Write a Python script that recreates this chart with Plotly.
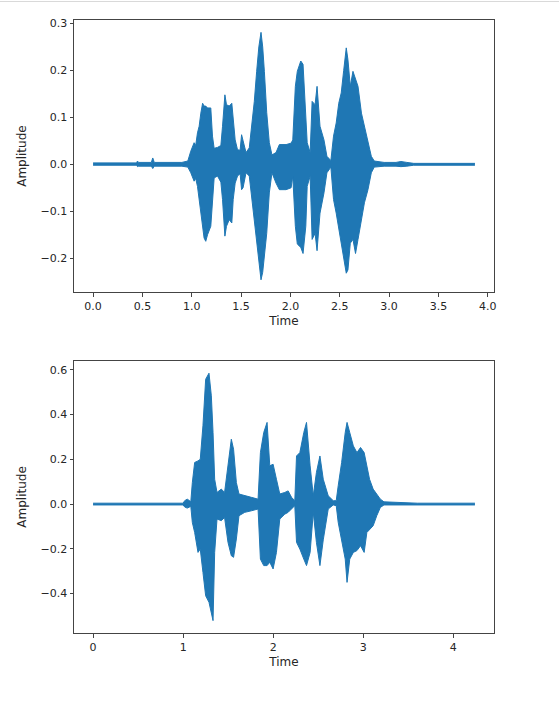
import plotly.graph_objects as go

# --- first clip: upper / lower envelope ---
time_a = [0.0, 0.44, 0.45, 0.46, 0.59, 0.605, 0.62, 0.90, 0.96, 0.99, 1.024, 1.04, 1.058,
          1.075, 1.092, 1.11, 1.125, 1.142, 1.16, 1.193, 1.21, 1.227, 1.261, 1.295, 1.312,
          1.336, 1.352, 1.38, 1.406, 1.42, 1.44, 1.464, 1.49, 1.505, 1.52, 1.55, 1.583,
          1.61, 1.634, 1.658, 1.68, 1.702, 1.719, 1.736, 1.76, 1.786, 1.813, 1.854, 1.888,
          1.956, 2.007, 2.024, 2.05, 2.07, 2.105, 2.128, 2.156, 2.17, 2.20, 2.22, 2.25,
          2.27, 2.30, 2.34, 2.37, 2.41, 2.437, 2.464, 2.49, 2.515, 2.54, 2.566, 2.583,
          2.607, 2.634, 2.66, 2.685, 2.72, 2.75, 2.786, 2.82, 2.85, 2.95, 3.07, 3.12,
          3.18, 3.25, 3.87]
upper_a = [0.003, 0.003, 0.007, 0.004, 0.004, 0.0135, 0.004, 0.004, 0.007, 0.028, 0.046,
           0.040, 0.067, 0.081, 0.109, 0.13, 0.124, 0.124, 0.12, 0.12, 0.06, 0.034, 0.036,
           0.04, 0.081, 0.148, 0.127, 0.124, 0.13, 0.102, 0.052, 0.031, 0.03, 0.063, 0.05,
           0.025, 0.035, 0.081, 0.134, 0.198, 0.25, 0.281, 0.25, 0.198, 0.11, 0.046, 0.02,
           0.025, 0.042, 0.042, 0.045, 0.052, 0.166, 0.198, 0.22, 0.213, 0.116, 0.046,
           0.025, 0.134, 0.127, 0.166, 0.081, 0.052, 0.017, 0.008, 0.06, 0.088, 0.13,
           0.152, 0.2, 0.248, 0.223, 0.166, 0.198, 0.18, 0.166, 0.109, 0.081, 0.046,
           0.017, 0.007, 0.004, 0.004, 0.006, 0.004, 0.002, 0.002]
lower_a = [-0.002, -0.002, -0.005, -0.004, -0.004, -0.009, -0.004, -0.004, -0.006, -0.018,
           -0.036, -0.03, -0.047, -0.075, -0.10, -0.132, -0.157, -0.164, -0.15, -0.132,
           -0.075, -0.029, -0.025, -0.038, -0.075, -0.153, -0.132, -0.118, -0.125, -0.075,
           -0.04, -0.025, -0.02, -0.054, -0.05, -0.018, -0.025, -0.075, -0.118, -0.163,
           -0.2, -0.246, -0.23, -0.2, -0.147, -0.061, -0.018, -0.04, -0.054, -0.054, -0.05,
           -0.025, -0.132, -0.17, -0.177, -0.19, -0.132, -0.047, -0.025, -0.16, -0.147,
           -0.184, -0.104, -0.061, -0.018, -0.006, -0.075, -0.104, -0.139, -0.168, -0.196,
           -0.232, -0.225, -0.168, -0.16, -0.19, -0.16, -0.118, -0.082, -0.054, -0.018,
           -0.006, -0.004, -0.004, -0.005, -0.004, -0.002, -0.002]

# --- second clip ---
time_b = [0.0, 1.0, 1.017, 1.045, 1.072, 1.085, 1.102, 1.128, 1.165, 1.19, 1.22, 1.25,
          1.287, 1.313, 1.332, 1.35, 1.376, 1.424, 1.46, 1.498, 1.535, 1.56, 1.591, 1.62,
          1.684, 1.758, 1.832, 1.858, 1.895, 1.932, 1.962, 1.999, 2.036, 2.073, 2.129,
          2.166, 2.204, 2.24, 2.259, 2.296, 2.34, 2.37, 2.41, 2.445, 2.48, 2.519, 2.556,
          2.611, 2.667, 2.70, 2.722, 2.76, 2.80, 2.82, 2.85, 2.89, 2.93, 2.97, 3.01, 3.04,
          3.07, 3.11, 3.15, 3.19, 3.23, 3.6, 4.24]
upper_b = [0.004, 0.004, 0.015, 0.022, 0.015, 0.01, 0.096, 0.186, 0.193, 0.2, 0.35, 0.558,
           0.585, 0.484, 0.32, 0.111, 0.052, 0.067, 0.052, 0.186, 0.29, 0.245, 0.096, 0.045,
           0.037, 0.03, 0.022, 0.23, 0.32, 0.365, 0.171, 0.178, 0.111, 0.045, 0.052, 0.059,
           0.03, 0.015, 0.215, 0.23, 0.32, 0.365, 0.171, 0.037, 0.141, 0.215, 0.111, 0.037,
           0.015, 0.015, 0.082, 0.186, 0.32, 0.365, 0.32, 0.26, 0.23, 0.253, 0.23, 0.171,
           0.111, 0.067, 0.045, 0.022, 0.01, 0.004, 0.004]
lower_b = [-0.004, -0.004, -0.013, -0.018, -0.013, -0.01, -0.082, -0.127, -0.216, -0.201,
           -0.305, -0.41, -0.439, -0.484, -0.521, -0.216, -0.067, -0.074, -0.06, -0.171,
           -0.231, -0.238, -0.156, -0.052, -0.037, -0.03, -0.022, -0.246, -0.275, -0.275,
           -0.26, -0.29, -0.216, -0.067, -0.045, -0.037, -0.022, -0.007, -0.171, -0.201,
           -0.246, -0.275, -0.216, -0.037, -0.171, -0.275, -0.16, -0.022, -0.004, -0.007,
           -0.082, -0.156, -0.246, -0.35, -0.246, -0.216, -0.208, -0.186, -0.216, -0.127,
           -0.112, -0.097, -0.052, -0.015, -0.004, -0.004, -0.004]

BLUE = '#1f77b4'
TICK_FONT = dict(family='DejaVu Sans', size=11, color='#262626')
TITLE_FONT = dict(family='DejaVu Sans', size=12, color='#262626')


def padded(lo, hi, frac=0.05):
    # same 5% autoscale margin as matplotlib
    pad = (hi - lo) * frac
    return [lo - pad, hi + pad]


def envelope_traces(t, up, low, xa, ya):
    lower = go.Scatter(x=t, y=low, mode='lines', line=dict(color=BLUE, width=1),
                       xaxis=xa, yaxis=ya, showlegend=False, hoverinfo='skip')
    upper = go.Scatter(x=t, y=up, mode='lines', line=dict(color=BLUE, width=1),
                       fill='tonexty', fillcolor=BLUE,
                       xaxis=xa, yaxis=ya, showlegend=False, hoverinfo='skip')
    return [lower, upper]


data = envelope_traces(time_a, upper_a, lower_a, 'x', 'y') + \
       envelope_traces(time_b, upper_b, lower_b, 'x2', 'y2')

axis_style = dict(showgrid=False, zeroline=False, showline=True, mirror=True,
                  linecolor='#444', linewidth=1, ticks='outside', ticklen=3.5,
                  tickcolor='#444', tickwidth=1, tickfont=TICK_FONT, automargin=False)

layout = go.Layout(
    width=559, height=705,
    margin=dict(l=74, r=65, t=20, b=72),
    paper_bgcolor='white', plot_bgcolor='white',
    font=TICK_FONT,
    xaxis=dict(axis_style, domain=[0, 1], anchor='y',
               range=padded(min(time_a), max(time_a)), tick0=0, dtick=0.5, tickformat='.1f',
               title=dict(text='Time', font=TITLE_FONT, standoff=4)),
    yaxis=dict(axis_style, domain=[0.556, 1], anchor='x',
               range=padded(min(lower_a), max(upper_a)), tick0=0, dtick=0.1, tickformat='.1f',
               title=dict(text='Amplitude', font=TITLE_FONT, standoff=11)),
    xaxis2=dict(axis_style, domain=[0, 1], anchor='y2',
                range=padded(min(time_b), max(time_b)), tick0=0, dtick=1, tickformat='d',
                title=dict(text='Time', font=TITLE_FONT, standoff=4)),
    yaxis2=dict(axis_style, domain=[0, 0.444], anchor='x2',
                range=padded(min(lower_b), max(upper_b)), tick0=0, dtick=0.2, tickformat='.1f',
                title=dict(text='Amplitude', font=TITLE_FONT, standoff=11)),
    shapes=[dict(type='line', xref='paper', yref='paper',
                 x0=-74 / 420, x1=485 / 420, y0=1.0302, y1=1.0302,
                 line=dict(color='#d9d9d9', width=1))],
)

fig = go.Figure(data=data, layout=layout)
# drop the default page margin so the figure sits at the window's top-left corner
fig.write_html("out.html", config={'displayModeBar': False},
               post_script="document.body.style.margin='0';")
